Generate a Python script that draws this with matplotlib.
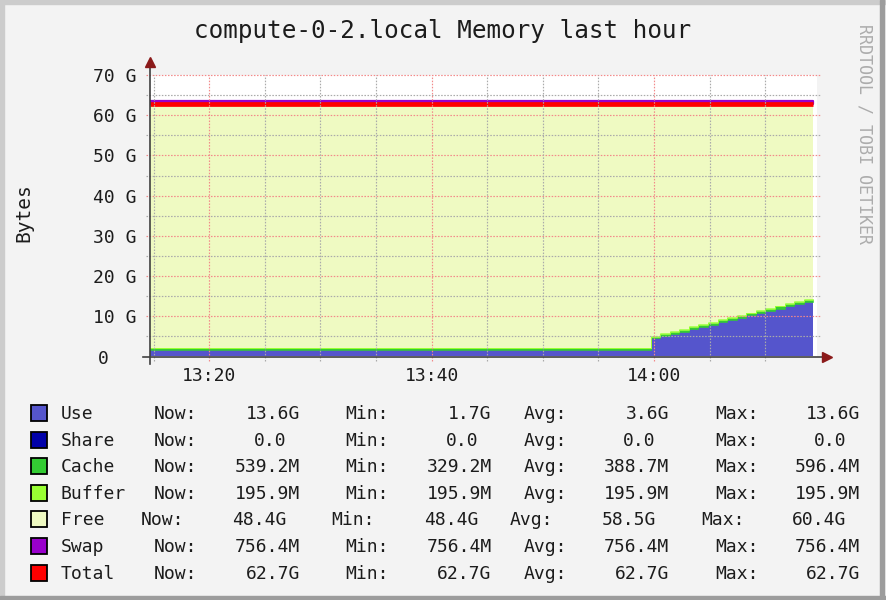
import matplotlib
matplotlib.use("Agg")
import matplotlib.pyplot as plt
import matplotlib.transforms as mtransforms
from matplotlib.patches import Rectangle
import numpy as np

W, H = 886, 600

# sample times in minutes after 13:00 (each value holds until the next sample)
times = [14.67, 59.70, 60.56, 61.42, 62.28, 63.14, 64.00, 64.86, 65.72, 66.58,
         67.44, 68.30, 69.16, 70.02, 70.88, 71.74, 72.60, 73.46, 74.30]
# GB
use = [1.7, 4.5, 5.1, 5.6, 6.2, 6.8, 7.3, 7.9, 8.5, 9.1,
       9.6, 10.2, 10.8, 11.3, 11.9, 12.5, 13.0, 13.6, 13.6]
cache = [0.33, 0.45, 0.46, 0.47, 0.48, 0.49, 0.50, 0.51, 0.60, 0.52,
         0.53, 0.53, 0.53, 0.54, 0.54, 0.54, 0.54, 0.54, 0.54]
free = [60.47, 57.55, 56.94, 56.43, 55.82, 55.21, 54.70, 54.09, 53.40, 52.88,
        52.37, 51.77, 51.17, 50.66, 50.06, 49.46, 48.96, 48.36, 48.36]
share = 0.0
buffer_ = 0.196
swap = 0.756
total = 62.7

names = ["Use", "Share", "Cache", "Buffer", "Free", "Swap", "Total"]
colors = ["#5555cc", "#0000aa", "#33cc33", "#99ff33", "#effac2", "#9900cc", "#ff0000"]
now_vals = ["13.6G", "0.0", "539.2M", "195.9M", "48.4G", "756.4M", "62.7G"]
min_vals = ["1.7G", "0.0", "329.2M", "195.9M", "48.4G", "756.4M", "62.7G"]
avg_vals = ["3.6G", "0.0", "388.7M", "195.9M", "58.5G", "756.4M", "62.7G"]
max_vals = ["13.6G", "0.0", "596.4M", "195.9M", "60.4G", "756.4M", "62.7G"]

y_ticks = [0, 10, 20, 30, 40, 50, 60, 70]
y_labels = ["0", "10 G", "20 G", "30 G", "40 G", "50 G", "60 G", "70 G"]
x_ticks = [20, 40, 60]
x_labels = ["13:20", "13:40", "14:00"]

MONO = "DejaVu Sans Mono"
TXT = "#1c1c1c"

fig = plt.figure(figsize=(W / 100, H / 100), dpi=100, facecolor="#f3f3f3")

def fx(x):
    return x / W

def fy(y):
    return 1 - y / H

# 3d-ish frame
fig.patches.append(Rectangle((0, 0), fx(4), 1, transform=fig.transFigure, color="#cccccc"))
fig.patches.append(Rectangle((0, fy(4)), 1, 4 / H, transform=fig.transFigure, color="#cccccc"))
fig.patches.append(Rectangle((fx(880), 0), fx(4), 1, transform=fig.transFigure, color="#9c9c9c"))
fig.patches.append(Rectangle((0, 0), 1, 4 / H, transform=fig.transFigure, color="#9c9c9c"))

left, right, top, bottom = 150, 817, 75, 356.5
ax = fig.add_axes([fx(left), fy(bottom), fx(right - left), (bottom - top) / H])
ax.set_facecolor("white")
ax.set_xlim(14.67, 74.66)
ax.set_ylim(0, 70)

t = np.array(times)
u = np.array(use)
s1 = u + share
s2 = s1 + np.array(cache)
s3 = s2 + buffer_
s4 = s3 + np.array(free)
s5 = s4 + swap

ax.fill_between(t, 0, u, step="post", color=colors[0], lw=0, zorder=2)
ax.fill_between(t, u, s1, step="post", color=colors[1], lw=0, zorder=2)
ax.fill_between(t, s1, s2, step="post", facecolor=colors[2], edgecolor=colors[2], lw=0.4, zorder=2)
ax.fill_between(t, s2, s3, step="post", facecolor=colors[3], edgecolor=colors[3], lw=0.4, zorder=2.1)
ax.fill_between(t, s3, s4, step="post", color=colors[4], lw=0, zorder=1.9)
ax.fill_between(t, s4, s5, step="post", facecolor=colors[5], edgecolor=colors[5], lw=1.6, zorder=2)
ax.plot(t, [total] * len(t), drawstyle="steps-post", color=colors[6], lw=3.4,
        solid_capstyle="butt", zorder=3)

# grid (drawn above the areas, like rrdtool)
dots = (0, (1.3, 1.3))
gx0 = -4 / (right - left)
gx1 = 1 + 4 / (right - left)
for v in range(5, 70, 10):
    ax.axhline(v, gx0, gx1, color="#aaaaaa", lw=0.85, ls=dots, clip_on=False, zorder=4)
for v in range(10, 71, 10):
    ax.axhline(v, gx0, gx1, color="#f28a8a", lw=0.85, ls=dots, clip_on=False, zorder=4)
gy0 = -4 / (bottom - top)
for m in range(15, 75, 5):
    if m % 20 == 0:
        continue
    ax.axvline(m, gy0, 1, color="#aaaaaa", lw=0.85, ls=dots, clip_on=False, zorder=4)
for m in x_ticks:
    ax.axvline(m, gy0, 1, color="#f28a8a", lw=0.85, ls=dots, clip_on=False, zorder=4)

# axes with arrows
for sp in ax.spines.values():
    sp.set_visible(False)
axis_col = "#404040"
arrow_col = "#8b1a1a"
ax.plot([-7 / (right - left), 1 + 6 / (right - left)], [0, 0], transform=ax.transAxes,
        color=axis_col, lw=1.2, clip_on=False, zorder=5)
ax.plot([0, 0], [-7 / (bottom - top), 1 + 8 / (bottom - top)], transform=ax.transAxes,
        color=axis_col, lw=1.2, clip_on=False, zorder=5)
ax.plot([1 + 10 / (right - left)], [0], marker=">", ms=7, color=arrow_col,
        transform=ax.transAxes, clip_on=False, zorder=6)
ax.plot([0], [1 + 13 / (bottom - top)], marker="^", ms=7, color=arrow_col,
        transform=ax.transAxes, clip_on=False, zorder=6)

ax.set_xticks(x_ticks, x_labels, fontfamily=MONO, fontsize=13, color=TXT)
ax.set_yticks(y_ticks, y_labels, fontfamily=MONO, fontsize=13, color=TXT)
ax.tick_params(axis="x", length=0, pad=7.5)
ax.tick_params(axis="y", length=0, pad=10)
# the "0" label has no unit, rrdtool keeps its column empty
lab0 = ax.get_yticklabels()[0]
lab0.set_transform(lab0.get_transform() + mtransforms.ScaledTranslation(-27 / 100, 0, fig.dpi_scale_trans))

fig.text(fx(443), fy(31), "compute-0-2.local Memory last hour", ha="center", va="center",
         fontfamily=MONO, fontsize=17.5, color=TXT)
fig.text(fx(24), fy(213), "Bytes", rotation=90, ha="center", va="center",
         fontfamily=MONO, fontsize=14, color=TXT)
fig.text(fx(865), fy(134), "RRDTOOL / TOBI OETIKER", rotation=270, ha="center", va="center",
         fontfamily=MONO, fontsize=12, color="#acacac")

# legend
pitch = 13.3
for i, name in enumerate(names):
    yc = 413 + i * 26.6
    base = fy(yc + 6)
    fig.patches.append(Rectangle((fx(31), fy(yc + 8)), fx(16), 16 / H, transform=fig.transFigure,
                                 facecolor=colors[i], edgecolor="black", lw=1.3))
    fig.text(fx(61), base, name, ha="left", va="baseline", fontfamily=MONO, fontsize=13, color=TXT)
    sh = -pitch if name == "Free" else 0
    cols = [(154, 300, "Now:", now_vals[i]), (345, 491.7, "Min:", min_vals[i]),
            (523.3, 669.3, "Avg:", avg_vals[i]), (715, 860, "Max:", max_vals[i])]
    for lx, rx, lab, val in cols:
        fig.text(fx(lx + sh), base, lab, ha="left", va="baseline", fontfamily=MONO,
                 fontsize=13, color=TXT)
        vs = 0 if val[-1].isalpha() else -pitch
        fig.text(fx(rx + sh + vs), base, val, ha="right", va="baseline", fontfamily=MONO,
                 fontsize=13, color=TXT)

fig.savefig("out.png", dpi=100, facecolor=fig.get_facecolor())
